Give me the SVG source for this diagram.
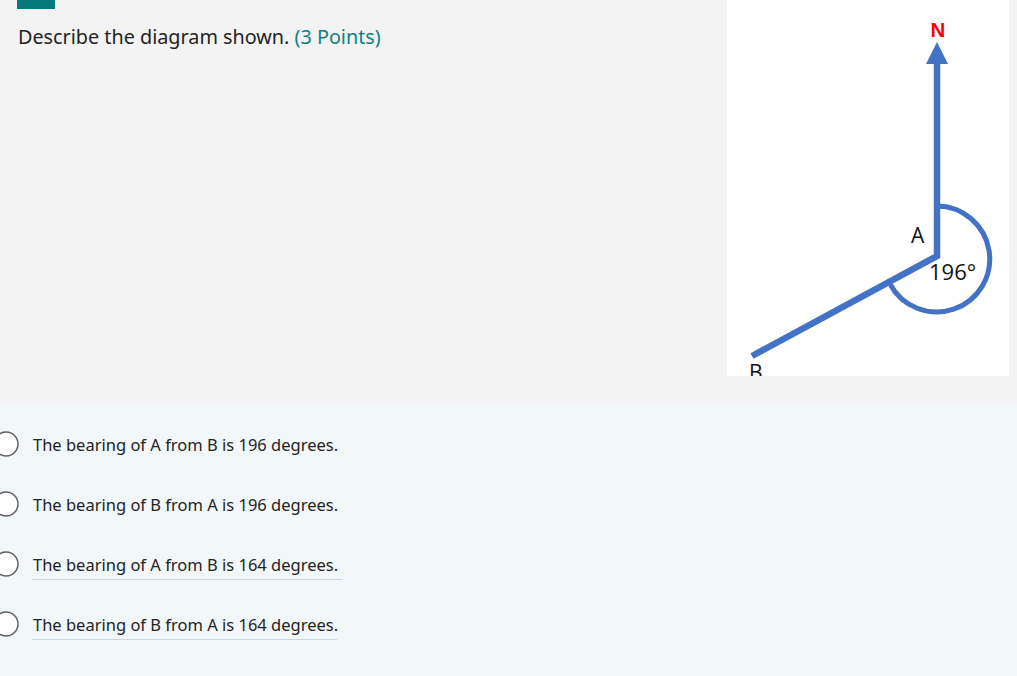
<svg xmlns="http://www.w3.org/2000/svg" width="1017" height="676" viewBox="0 0 1017 676">
<style>
.q{font-family:"Noto Sans","Open Sans",sans-serif;font-size:19.8px;fill:#242424}
.o{font-family:"Noto Sans","Open Sans",sans-serif;font-size:16.5px;fill:#242424}
.d{font-family:"Open Sans","Liberation Sans",sans-serif;fill:#111}
.radio{fill:#fff;stroke:#616161;stroke-width:1.5}
.ul{stroke:#c7d6ea;stroke-width:1}
.blue{stroke:#4472c4;fill:none}
</style>
<defs>
<clipPath id="panel"><rect x="727" y="0" width="282" height="376"/></clipPath>
</defs>
<rect width="1017" height="676" fill="#f3f3f3"/>
<rect x="0" y="403" width="1017" height="273" fill="#f2f7f9"/>
<rect x="17" y="0" width="38" height="9" fill="#077a7b"/>
<g id="question">
<text class="q" x="18" y="44">Describe the diagram shown. <tspan fill="#0f7f87">(3 Points)</tspan></text>
</g>
<g id="figure">
<rect x="727" y="0" width="282" height="376" fill="#ffffff"/>
<g id="connectors">
<path class="blue" d="M937,64 L937,256 L752,356" stroke-width="6.5" stroke-linejoin="miter"/>
<polygon points="937,42 926,64 948,64" fill="#4472c4"/>
<path class="blue" d="M937,206 A53,53 0 1 1 890,284" stroke-width="5"/>
</g>
<g id="node-N"><text x="938" y="37" text-anchor="middle" font-family="Liberation Sans,Arial,sans-serif" font-weight="bold" font-size="20.5" fill="#ff0000">N</text></g>
<g id="node-A"><text class="d" x="911" y="243" font-size="21">A</text></g>
<g id="angle-label"><text class="d" x="929" y="280" font-size="22">196°</text></g>
<g id="node-B" clip-path="url(#panel)"><text class="d" x="749" y="380" font-size="21">B</text></g>
</g>
<g id="options">
<g id="opt1"><circle class="radio" cx="6" cy="444" r="12"/><text class="o" x="33" y="451">The bearing of A from B is 196 degrees.</text></g>
<g id="opt2"><circle class="radio" cx="6" cy="504" r="12"/><text class="o" x="33" y="511">The bearing of B from A is 196 degrees.</text></g>
<g id="opt3"><circle class="radio" cx="6" cy="564" r="12"/><text class="o" x="33" y="571">The bearing of A from B is 164 degrees.</text><line class="ul" x1="32" y1="579.5" x2="342" y2="579.5"/></g>
<g id="opt4"><circle class="radio" cx="6" cy="624" r="12"/><text class="o" x="33" y="631">The bearing of B from A is 164 degrees.</text><line class="ul" x1="32" y1="639.5" x2="337" y2="639.5"/></g>
</g>
</svg>
